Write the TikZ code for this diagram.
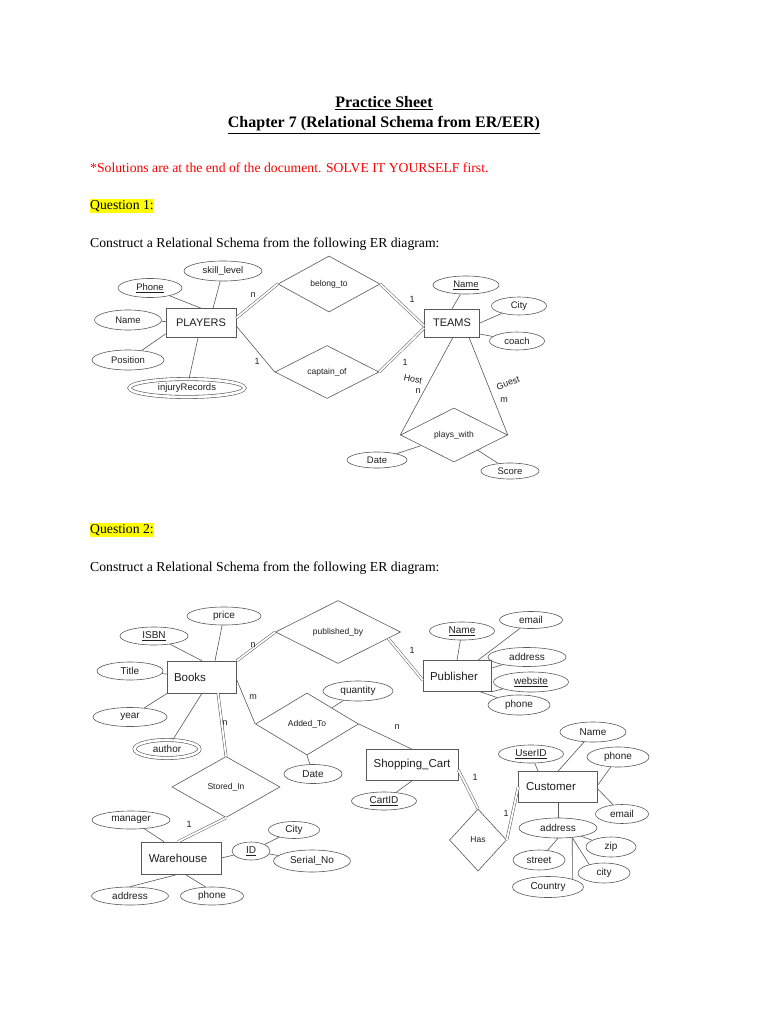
\documentclass[tikz,border=0pt]{standalone}
\usepackage{fontspec}
\setmainfont{Liberation Serif}
\newfontfamily\erfont{Liberation Sans}
\usetikzlibrary{shapes.geometric,calc}
\definecolor{lc}{gray}{0.35}
\definecolor{tc}{gray}{0.12}
\definecolor{hl}{RGB}{255,255,0}
\newcommand{\fsz}[1]{\fontsize{#1}{#1}\selectfont}
\tikzset{
  wh/.style 2 args={minimum width=#1, minimum height=#2},
  ent/.style={draw=lc, line width=0.6pt, rectangle, inner sep=0pt, text=tc},
  attr/.style={draw=lc, line width=0.6pt, ellipse, inner sep=0pt, text=tc},
  mvattr/.style={attr, double, double distance=2.6pt},
  rel/.style={draw=lc, line width=0.6pt, diamond, aspect=2, inner sep=0pt, text=tc},
  conn/.style={draw=lc, line width=0.6pt},
  dbl/.style={draw=lc, line width=0.5pt, double, double distance=1.8pt},
  card/.style={inner sep=0pt, text=tc, font=\erfont\fsz{9}},
  body/.style={anchor=west, inner sep=0pt, font=\fsz{13.7}},
  e1/.style={ent, font=\erfont\fsz{11}},
  a1/.style={attr, font=\erfont\fsz{9.5}},
  r1/.style={rel, font=\erfont\fsz{8.5}},
  e2/.style={ent, font=\erfont\fsz{11.5}},
  a2/.style={attr, font=\erfont\fsz{10}},
  r2/.style={rel, font=\erfont\fsz{8.5}}
}
\begin{document}
\begin{tikzpicture}[x=1pt,y=-1pt]
\useasboundingbox[fill=white] (0,0) rectangle (768,1024);

% ---------- header ----------
\node[font=\bfseries\fsz{16}] (title1) at (384,103) {\underline{Practice Sheet}};
\node[font=\bfseries\fsz{16}] (title2) at (384,125) {\underline{Chapter 7 (Relational Schema from ER/EER)}};
\node[body, text=red] (note) at (90,168) {*Solutions are at the end of the document. SOLVE IT YOURSELF first.};
\node[body, fill=hl, inner ysep=1.5pt] (q1) at (90,206) {Question 1:};
\node[body] (c1) at (90,244) {Construct a Relational Schema from the following ER diagram:};
\node[body, fill=hl, inner ysep=1.5pt] (q2) at (90,530) {Question 2:};
\node[body] (c2) at (90,568) {Construct a Relational Schema from the following ER diagram:};

% ---------- Question 1 diagram ----------
\node[e1, wh={70pt}{29pt}] (players) at (201,323) {PLAYERS};
\node[e1, wh={55pt}{28pt}] (teams) at (452,323) {TEAMS};
\node[r1, wh={102pt}{56pt}] (belong) at (329,284) {belong\_to};
\node[r1, wh={104pt}{53pt}] (captain) at (327,372) {captain\_of};
\node[r1, wh={107pt}{54pt}] (plays) at (454,435) {plays\_with};

\node[a1, wh={78pt}{20pt}] (skill) at (223,271) {skill\_level};
\node[a1, wh={64pt}{19pt}] (phone1) at (150,288) {\underline{Phone}};
\node[a1, wh={67pt}{20pt}] (name1) at (128,320) {Name};
\node[a1, wh={72pt}{20pt}] (position) at (128,360) {Position};
\node[a1, mvattr, wh={115pt}{18pt}] (injury) at (187,388) {injuryRecords};
\node[a1, wh={66pt}{18pt}] (tname) at (466,285) {\underline{Name}};
\node[a1, wh={55pt}{18pt}] (city1) at (519,306) {City};
\node[a1, wh={55pt}{18pt}] (coach) at (517,341) {coach};
\node[a1, wh={60pt}{16pt}] (date1) at (377,460) {Date};
\node[a1, wh={58pt}{16pt}] (score) at (510,471) {Score};

\draw[conn] (phone1) -- (players.north);
\draw[conn] (skill) -- ([xshift=12pt]players.north);
\draw[conn] (name1) -- (players);
\draw[conn] (position) -- ([yshift=4pt]players.south west);
\draw[conn] (injury) -- ([xshift=-3pt]players.south);
\draw[dbl] ([yshift=5pt]players.east) -- (belong.west);
\draw[conn] ([yshift=-3pt]players.east) -- (captain.west);
\draw[dbl] (belong.east) -- ([yshift=-3pt]teams.west);
\draw[dbl] (captain.east) -- ([yshift=-5pt]teams.west);
\draw[conn] (tname) -- (teams.north);
\draw[conn] (teams.east) -- (city1);
\draw[conn] ([yshift=-11pt]teams.east) -- (coach);
\draw[conn] ([xshift=1pt]teams.south) -- (plays.west);
\draw[conn] ([xshift=17pt]teams.south) -- (plays.east);
\draw[conn] (date1) -- (plays);
\draw[conn] (score) -- (plays);

\node[card] (l1) at (253,295) {n};
\node[card] (l2) at (257,361) {1};
\node[card] (l3) at (412,299) {1};
\node[card] (l4) at (405,362) {1};
\node[card, rotate=-12] (l5) at (413,379) {Host};
\node[card] (l6) at (418,391) {n};
\node[card, rotate=20] (l7) at (508,383) {Guest};
\node[card] (l8) at (504,400) {m};

% ---------- Question 2 diagram ----------
\node[e2, wh={69pt}{32pt}] (books) at (202,677) {Books\hspace*{24pt}};
\node[e2, wh={68pt}{31pt}] (publisher) at (457,676) {Publisher\hspace*{6pt}};
\node[e2, wh={92pt}{31pt}] (cart) at (412,765) {Shopping\_Cart};
\node[e2, wh={79pt}{31pt}] (customer) at (558,787) {Customer\hspace*{14pt}};
\node[e2, wh={80pt}{32pt}] (warehouse) at (181,858) {Warehouse\hspace*{6pt}};

\node[r2, wh={125pt}{63pt}] (published) at (338,632) {published\_by};
\node[r2, wh={103pt}{62pt}] (added) at (307,724) {Added\_To};
\node[r2, wh={108pt}{61pt}] (stored) at (226,787) {Stored\_In};
\node[r2, wh={57pt}{62pt}] (has) at (478,840) {Has};

\node[a2, wh={74pt}{18pt}] (price) at (224,616) {price};
\node[a2, wh={68pt}{18pt}] (isbn) at (154,636) {\underline{ISBN}};
\node[a2, wh={66pt}{18pt}] (title) at (130,671) {Title};
\node[a2, wh={74pt}{19pt}] (year) at (130,717) {year};
\node[a2, mvattr, wh={65pt}{18pt}] (author) at (167,749) {author};
\node[a2, wh={65pt}{18pt}] (pname) at (462,631) {\underline{Name}};
\node[a2, wh={63pt}{17pt}] (email2) at (531,620) {email};
\node[a2, wh={78pt}{19pt}] (address2) at (527,657) {address};
\node[a2, wh={75pt}{20pt}] (website) at (531,682) {\underline{website}};
\node[a2, wh={62pt}{20pt}] (phone2) at (519,705) {phone};
\node[a2, wh={70pt}{20pt}] (quantity) at (358,691) {quantity};
\node[a2, wh={58pt}{19pt}] (date2) at (313,774) {Date};
\node[a2, wh={65pt}{18pt}] (cartid) at (384,801) {\underline{CartID}};
\node[a2, wh={65pt}{18pt}] (userid) at (531,754) {\underline{UserID}};
\node[a2, wh={66pt}{20pt}] (cname) at (593,732) {Name};
\node[a2, wh={62pt}{20pt}] (cphone) at (618,757) {phone};
\node[a2, wh={53pt}{19pt}] (cemail) at (622,814) {email};
\node[a2, wh={78pt}{20pt}] (caddress) at (558,828) {address};
\node[a2, wh={50pt}{20pt}] (zip) at (611,847) {zip};
\node[a2, wh={52pt}{20pt}] (street) at (539,860) {street};
\node[a2, wh={52pt}{20pt}] (city2) at (604,873) {city};
\node[a2, wh={71pt}{21pt}] (country) at (548,887) {Country};
\node[a2, wh={78pt}{18pt}] (manager) at (131,820) {manager};
\node[a2, wh={38pt}{18pt}] (wid) at (251,851) {\underline{ID}};
\node[a2, wh={51pt}{17pt}] (wcity) at (294,830) {City};
\node[a2, wh={77pt}{22pt}] (serial) at (312,861) {Serial\_No};
\node[a2, wh={77pt}{18pt}] (waddress) at (130,896) {address};
\node[a2, wh={63pt}{18pt}] (wphone) at (212,896) {phone};

% Books
\draw[conn] (isbn) -- (books.north);
\draw[conn] (price) -- ([xshift=13pt]books.north);
\draw[conn] (title) -- (books);
\draw[conn] (year) -- (books.south west);
\draw[conn] (author) -- (books.south);
\draw[dbl] (books.north east) -- (published.west);
\draw[conn] ([yshift=-3pt]books.east) -- (added.west);
\draw[dbl] ([xshift=16pt]books.south) -- (stored.north);
% Publisher
\draw[dbl] ($(published.east)!0.2!(published.south)$) -- ([yshift=-4pt]publisher.west);
\draw[conn] (pname) -- (publisher.north);
\draw[conn] (email2) -- ([xshift=21pt]publisher.north);
\draw[conn] (address2) -- ([yshift=-8pt]publisher.north east);
\draw[conn] (publisher.south east) -- (website);
\draw[conn] (phone2) -- ([xshift=-11pt]publisher.south east);
% Added_To / cart
\draw[conn] (quantity) -- (added);
\draw[conn] (added.east) -- (cart.north);
\draw[conn] (date2) -- (added.south);
\draw[conn] (cartid) -- (cart.south);
\draw[dbl] ([yshift=-5pt]cart.east) -- (has.north);
\draw[dbl] (has.east) -- (customer.west);
% Customer
\draw[conn] (userid) -- ([xshift=-20pt]customer.north);
\draw[conn] (cname) -- (customer.north);
\draw[conn] (cphone) -- ([yshift=2pt]customer.east);
\draw[conn] (cemail) -- ([yshift=-2pt]customer.east);
\draw[conn] (caddress) -- (customer.south);
\draw[conn] (caddress) -- (zip);
\draw[conn] (street) -- (caddress.south);
\draw[conn] (caddress.-34) -- (country.18);
\draw[conn] (caddress.-34) -- (city2.150);
% Warehouse
\draw[dbl] (stored.south) -- ([xshift=-3pt]warehouse.north);
\draw[conn] (manager) -- ([xshift=-17pt]warehouse.north);
\draw[conn] (warehouse.east) -- (wid);
\draw[conn] (wid) -- (wcity);
\draw[conn] (wid) -- (serial);
\draw[conn] (waddress.north) -- ([xshift=-3pt]warehouse.south);
\draw[conn] (wphone.125) -- ([xshift=4pt]warehouse.south);

\node[card] (k1) at (253,645) {n};
\node[card] (k2) at (253,697) {m};
\node[card] (k3) at (225,723) {n};
\node[card] (k4) at (412,650) {1};
\node[card] (k5) at (397,727) {n};
\node[card] (k6) at (475,777) {1};
\node[card] (k7) at (506,813) {1};
\node[card] (k8) at (189,824) {1};
\end{tikzpicture}
\end{document}
